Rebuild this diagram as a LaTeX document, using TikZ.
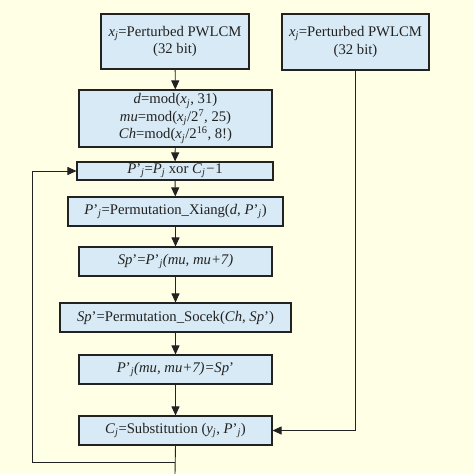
\documentclass[tikz,border=0pt]{standalone}
\usepackage{fontspec}
\setmainfont{Liberation Serif}
\usetikzlibrary{arrows.meta}
\definecolor{bg}{HTML}{FFFFE6}
\definecolor{boxfill}{HTML}{D8EAF5}
\definecolor{ink}{HTML}{222222}
\newcommand\pr{\char"0027\relax}
\newcommand\vsub[2]{\textit{#1}\textsubscript{\textit{#2}}}
\newcommand\pj{\textit{P}\pr\textsubscript{\textit{j}}}
\begin{document}
\begin{tikzpicture}[x=1pt,y=-1pt,
  box/.style={draw=ink,line width=1.1pt,fill=boxfill,inner sep=0pt,align=center,font=\fontsize{14.7}{17.5}\selectfont,text=ink},
  conn/.style={draw=ink,line width=0.9pt},
  arr/.style={conn,-{Triangle[length=9pt,width=8pt]}}]
\fill[bg] (0,0) rectangle (474,474);
\useasboundingbox (0,0) rectangle (474,474);
\node[box,minimum width=148pt,minimum height=55pt] (b1) at (175,41.5) {\vsub{x}{j}=Perturbed PWLCM\\(32 bit)};
\node[box,minimum width=147pt,minimum height=56pt] (b2) at (355.5,42) {\vsub{x}{j}=Perturbed PWLCM\\(32 bit)};
\node[box,minimum width=193pt,minimum height=57pt] (b3) at (175.5,118.5) {\textit{d}=mod(\vsub{x}{j}, 31)\\\textit{mu}=mod(\vsub{x}{j}/2\textsuperscript{7}, 25)\\\textit{Ch}=mod(\vsub{x}{j}/2\textsuperscript{16}, 8!)};
\node[box,minimum width=196pt,minimum height=18pt] (b4) at (175,171) {\pj=\vsub{P}{j} xor \vsub{C}{j}\textit{−}1};
\node[box,minimum width=215pt,minimum height=29pt] (b5) at (175.5,211.5) {\pj=Permutation\_Xiang(\textit{d}, \pj)};
\node[box,minimum width=193pt,minimum height=29pt] (b6) at (175.5,261.5) {\textit{Sp}\pr=\pj\textit{(mu, mu+7)}};
\node[box,minimum width=231pt,minimum height=29pt] (b7) at (175.5,317.5) {\textit{Sp}\pr=Permutation\_Socek(\textit{Ch}, \textit{Sp}\pr)};
\node[box,minimum width=193pt,minimum height=29pt] (b8) at (175.5,369.5) {\pj\textit{(mu, mu+7)=Sp}\pr};
\node[box,minimum width=193pt,minimum height=29pt] (b9) at (175.5,430.5) {\vsub{C}{j}=Substitution (\vsub{y}{j}, \pj)};
\coordinate (bend) at (175,462);
\coordinate (loopl) at (32,462);
\coordinate (bottom) at (175,474);
\draw[arr] (b1) -- (b3);
\draw[arr] (b3) -- (b4);
\draw[arr] (b4) -- (b5);
\draw[arr] (b5) -- (b6);
\draw[arr] (b6) -- (b7);
\draw[arr] (b7) -- (b8);
\draw[arr] (b8) -- (b9);
\draw[arr] (b2.south) |- (b9.east);
\draw[conn] (b9.south) -- (bottom);
\draw[arr] (bend) -- (loopl) |- (b4.west);
\end{tikzpicture}
\end{document}
